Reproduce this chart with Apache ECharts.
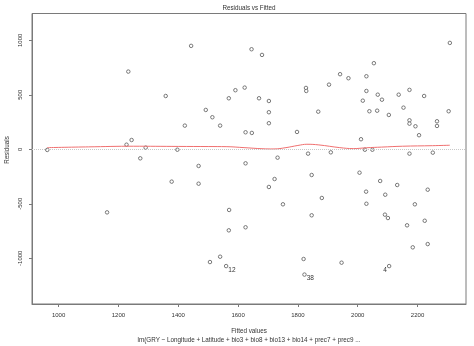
<!DOCTYPE html>
<html>
<head>
<meta charset="utf-8">
<script src="https://cdn.jsdelivr.net/npm/echarts@6/dist/echarts.min.js"></script>
<style>html,body{margin:0;padding:0;background:#fff}#c{width:474px;height:346px}</style>
</head>
<body>
<div id="c"></div>
<script>
var fittedX = [962,1233,1227,1244,1291,1273,1162,1443,1645,1680,1358,1591,1622,1569,1670,1703,1492,1514,1703,1703,1422,1540,1625,1646,1797,1827,1828,1397,1468,1625,1732,1834,1378,1468,1722,1703,1750,1570,1569,1625,1506,1540,1560,1819,1822,2308,2054,1941,1969,2029,1904,2029,2173,2067,2137,2222,2081,2017,2153,2039,2065,1868,2304,2104,2173,2173,2193,2265,2265,2205,2011,2024,2049,1910,2173,2251,1846,2006,2075,2132,2028,2092,2234,1880,2029,2191,1846,2091,2101,2224,2165,2184,2234,1946,2105];
var residY = [-6,713,42,85,15,-83,-579,949,918,866,489,542,566,468,468,443,361,294,340,239,217,217,156,150,159,563,535,-4,-153,-129,-77,-40,-297,-316,-273,-346,-505,-557,-744,-716,-1035,-986,-1072,-1007,-1150,976,790,689,652,670,593,535,545,501,501,489,455,446,382,349,354,345,349,315,266,235,211,257,214,129,92,-4,-4,-28,-40,-31,-236,-215,-291,-328,-389,-417,-371,-447,-500,-505,-606,-600,-631,-656,-698,-900,-870,-1041,-1072];
var labelIndex = [42, 44, 94];
var labelText = ['12', '38', '4'];
var smoothX = [962,1100,1250,1400,1500,1560,1620,1680,1720,1760,1800,1830,1870,1940,1985,2030,2080,2150,2250,2308];
var smoothY = [15,22,28,26,25,24,15,5,3,15,35,46,40,15,6,14,20,28,33,37];
var xTicks = [1000,1200,1400,1600,1800,2000,2200];
var yTicks = [-1000,-500,0,500,1000];
var titleText = 'Residuals vs Fitted';
var xLabel = 'Fitted values';
var yLabel = 'Residuals';
var subText = 'lm(GRY ~ Longitude + Latitude + bio3 + bio8 + bio13 + bio14 + prec7 + prec9 ...';

var font = 'Liberation Sans';
var pts = fittedX.map(function (x, i) {
  var k = labelIndex.indexOf(i);
  if (k < 0) return [x, residY[i]];
  return {
    value: [x, residY[i]],
    label: {
      show: true, formatter: labelText[k],
      position: k === 2 ? 'left' : 'right',
      offset: k === 2 ? [1, 4] : [-1, 4],
      distance: 1, fontSize: 6.5, color: '#333', fontFamily: font
    }
  };
});
var smooth = smoothX.map(function (x, i) { return [x, smoothY[i]]; });

var gridColor = '#7a7a7a';
var chart = echarts.init(document.getElementById('c'), null, {renderer: 'canvas'});
chart.setOption({
  animation: false,
  backgroundColor: '#fff',
  grid: {left: 32, right: 8, top: 13.5, bottom: 42, show: true, borderColor: gridColor, borderWidth: 1, backgroundColor: 'transparent'},
  xAxis: {
    type: 'value', min: 911, max: 2362,
    axisLine: {show: true, onZero: false, lineStyle: {color: gridColor}},
    axisTick: {show: true, length: 3, customValues: xTicks, lineStyle: {color: gridColor}},
    axisLabel: {customValues: xTicks, margin: 8, fontSize: 6, color: '#333', fontFamily: font,
      formatter: function (v) { return String(v); }},
    splitLine: {show: false}
  },
  yAxis: {
    type: 'value', min: -1420, max: 1246,
    axisLine: {show: true, onZero: false, lineStyle: {color: gridColor}},
    axisTick: {show: true, length: 3, customValues: yTicks, lineStyle: {color: gridColor}},
    axisLabel: {customValues: yTicks, rotate: 90, margin: 9, fontSize: 6, color: '#333', fontFamily: font,
      formatter: function (v) { return String(v); }},
    splitLine: {show: false}
  },
  graphic: [
    {type: 'text', x: 249, y: 8, style: {text: titleText, fontSize: 6.3, fill: '#333', fontFamily: font, textAlign: 'center', textVerticalAlign: 'middle'}},
    {type: 'text', x: 249, y: 331.5, style: {text: xLabel, fontSize: 6.3, fill: '#333', fontFamily: font, textAlign: 'center', textVerticalAlign: 'middle'}},
    {type: 'text', x: 249, y: 340, style: {text: subText, fontSize: 6.3, fill: '#333', fontFamily: font, textAlign: 'center', textVerticalAlign: 'middle'}},
    {type: 'text', x: 7, y: 150, rotation: Math.PI / 2, style: {text: yLabel, fontSize: 6.3, fill: '#333', fontFamily: font, textAlign: 'center', textVerticalAlign: 'middle'}}
  ],
  series: [
    {
      type: 'line', data: [], silent: true,
      markLine: {silent: true, symbol: ['none', 'none'], label: {show: false},
        lineStyle: {color: '#c8c8c8', type: 'dotted', width: 1},
        data: [{yAxis: 0}]}
    },
    {
      type: 'scatter', data: pts, symbol: 'circle', symbolSize: 3.5,
      itemStyle: {color: '#ffffff', borderColor: '#6a6a6a', borderWidth: 0.9, opacity: 1}
    },
    {
      type: 'line', data: smooth, smooth: 0.4, showSymbol: false, symbol: 'none',
      lineStyle: {color: '#f07070', width: 1}
    }
  ]
});
</script>
</body>
</html>
